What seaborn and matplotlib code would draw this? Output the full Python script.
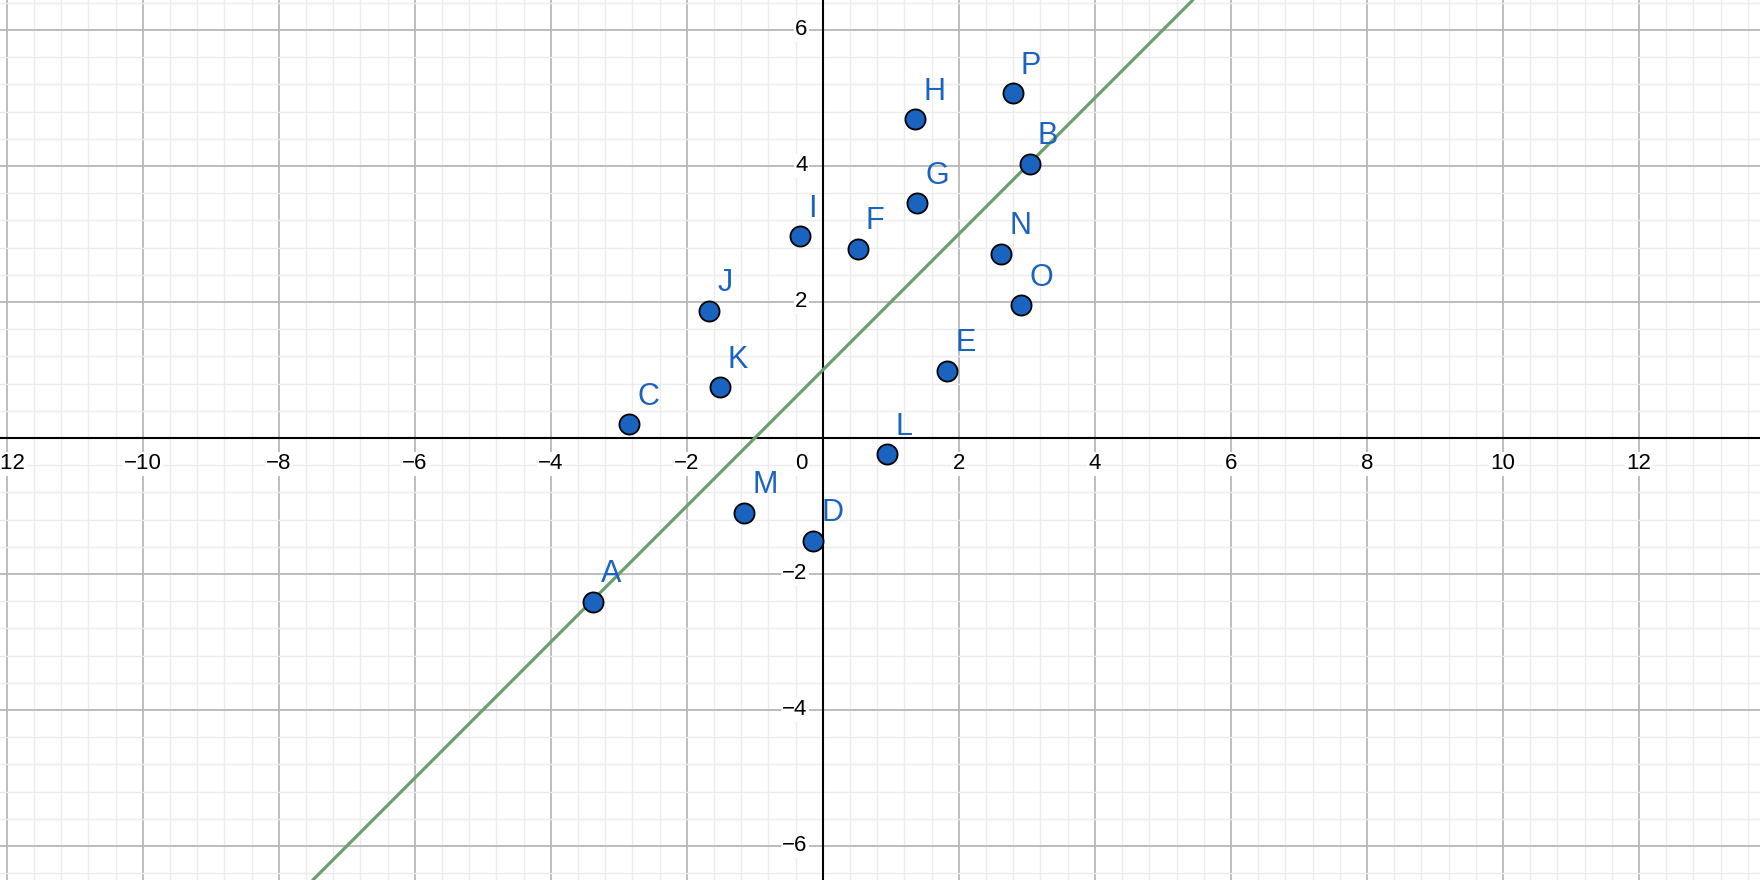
import numpy as np
import seaborn as sns
import matplotlib.pyplot as plt
from matplotlib.ticker import MultipleLocator

# points
names = ["A", "B", "C", "D", "E", "F", "G", "H",
         "I", "J", "K", "L", "M", "N", "O", "P"]
px = [-3.38, 3.04, -2.85, -0.14, 1.83, 0.51, 1.38, 1.35,
      -0.34, -1.67, -1.52, 0.94, -1.16, 2.62, 2.92, 2.79]
py = [-2.41, 4.03, 0.20, -1.51, 0.99, 2.78, 3.45, 4.69,
      2.97, 1.87, 0.75, -0.24, -1.10, 2.71, 1.95, 5.07]

# fitted line y = slope * x + intercept
slope = 1.0
intercept = 1.0

x_ticks = [-12, -10, -8, -6, -4, -2, 2, 4, 6, 8, 10, 12]
y_ticks = [-6, -4, -2, 2, 4, 6]

blue = "#1a63bf"
green = "#6b9f6c"

sns.set_theme(style="white")
plt.rcParams["font.family"] = ["Liberation Sans", "DejaVu Sans"]

fig = plt.figure(figsize=(17.6, 8.8), dpi=100)
ax = fig.add_axes([0, 0, 1, 1])
ax.set_xlim(-12.10, 13.78)
ax.set_ylim(-6.50, 6.44)

# grid like geogebra: major every 2, minor every 0.4
ax.xaxis.set_major_locator(MultipleLocator(2))
ax.yaxis.set_major_locator(MultipleLocator(2))
ax.xaxis.set_minor_locator(MultipleLocator(0.4))
ax.yaxis.set_minor_locator(MultipleLocator(0.4))
ax.grid(which="major", color="#b8b8b8", linewidth=1.3)
ax.grid(which="minor", color="#ececec", linewidth=1.0)
ax.set_axisbelow(True)
ax.tick_params(which="both", length=0, labelbottom=False, labelleft=False)
for sp in ax.spines.values():
    sp.set_visible(False)

ax.axhline(0, color="black", linewidth=1.5, zorder=2)
ax.axvline(0, color="black", linewidth=1.5, zorder=2)

box = dict(facecolor="white", edgecolor="none", pad=1)
for t in x_ticks:
    ax.annotate(str(t).replace("-", "\u2212"), (t, 0), xytext=(0, -11),
                textcoords="offset points", ha="center", va="top",
                fontsize=16, color="black", bbox=box, zorder=3)
for t in y_ticks:
    ax.annotate(str(t).replace("-", "\u2212"), (0, t), xytext=(-11, 0),
                textcoords="offset points", ha="right", va="center",
                fontsize=16, color="black", bbox=box, zorder=3)
ax.annotate("0", (0, 0), xytext=(-11, -11), textcoords="offset points",
            ha="right", va="top", fontsize=16, color="black", bbox=box, zorder=3)

ax.axline((0, intercept), slope=slope, color=green, linewidth=2.3, zorder=4)

sns.scatterplot(x=px, y=py, ax=ax, s=210, color=blue, edgecolor="black",
                linewidth=1.3, zorder=5, legend=False)

for n, x, y in zip(names, px, py):
    ax.annotate(n, (x, y), xytext=(6, 14), textcoords="offset points",
                ha="left", va="baseline", fontsize=22, color=blue, zorder=6)

fig.savefig("out.png", dpi=100)
